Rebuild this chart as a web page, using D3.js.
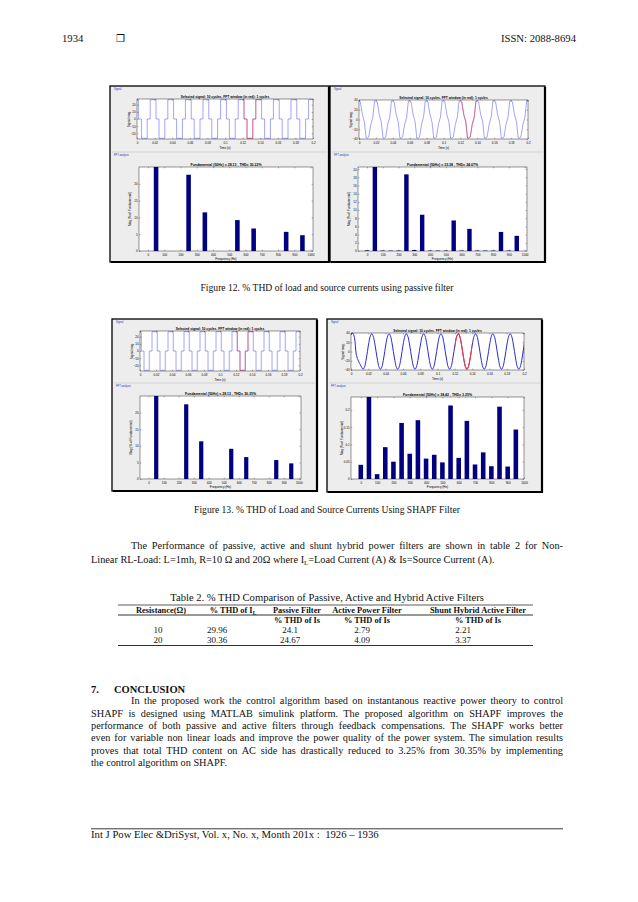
<!DOCTYPE html>
<html>
<head>
<meta charset="utf-8">
<script src="https://cdn.jsdelivr.net/npm/d3@7"></script>
<style>
  body { margin: 0; background: #fff; }
  svg { display: block; }
</style>
</head>
<body>
<svg id="page" width="638" height="902"></svg>
<script>
// ---- data ----
const freqs = [0, 50, 100, 150, 200, 250, 300, 350, 400, 450, 500, 550, 600, 650, 700, 750, 800, 850, 900, 950];
const magLoadPassive = [0, 100, 0, 0, 0, 22.7, 0, 11.5, 0, 0, 0, 9.2, 0, 6.7, 0, 0, 0, 5.7, 0, 4.7];
const magSourcePassive = [0.15, 100, 0.1, 0.1, 0.1, 18.7, 0.25, 8.85, 0.1, 0.1, 0.1, 7.45, 0.1, 5.4, 0.1, 0.1, 0.1, 4.65, 0.1, 3.7];
const magLoadShapf = [0, 100, 0, 0, 0, 22.5, 0, 11.35, 0, 0, 0, 9.1, 0, 6.6, 0, 0, 0, 5.7, 0, 4.7];
const magSourceShapf = [0.041, 100, 0.014, 0.092, 0.05, 0.162, 0.073, 0.17, 0.059, 0.07, 0.048, 0.2125, 0.061, 0.168, 0.042, 0.077, 0.037, 0.209, 0.036, 0.143];

const timeTicks = [0, 0.02, 0.04, 0.06, 0.08, 0.1, 0.12, 0.14, 0.16, 0.18, 0.2];
const freqTicks = [0, 100, 200, 300, 400, 500, 600, 700, 800, 900, 1000];
const magTicks25 = [0, 5, 10, 15, 20];
const magTicks20 = [0, 2, 4, 6, 8, 10, 12, 14, 16, 18, 20];
const magTicksSmall = [0, 0.05, 0.1, 0.15, 0.2];
const sigTicks30 = [-20, -10, 0, 10, 20];
const sigTicks40 = [-40, -20, 0, 20, 40];

// one cycle of each waveform: [fraction of cycle, value]
const sixStepCycle = [[0, 27], [0.08, 27], [0.08, 0], [0.25, 0], [0.25, -27], [0.58, -27], [0.58, 0], [0.75, 0], [0.75, 27], [1, 27]];
const passiveSourceCycle = [[0, 38], [0.08, 36], [0.2, 10], [0.32, -5], [0.42, -38], [0.5, -38], [0.58, -36], [0.7, -10], [0.82, 5], [0.92, 38], [1, 38]];
const sineStart = [[0, 36], [0.002, 40], [0.004, 30], [0.006, -5], [0.008, -18], [0.01, -26], [0.012, -33], [0.014, -38.4]];
const sineCycle = [[0, -38.4], [0.083, -33.3], [0.167, -19.2], [0.25, 0], [0.333, 19.2], [0.417, 33.3], [0.5, 38.4], [0.583, 33.3], [0.667, 19.2], [0.75, 0], [0.833, -19.2], [0.917, -33.3]];

const tableHead1 = ["Resistance(Ω)", "% THD of I|L", "Passive Filter", "Active Power Filter", "Shunt Hybrid Active Filter"];
const tableHead2 = ["", "", "% THD of Is", "% THD of Is", "% THD of Is"];
const tableRows = [
  ["10", "29.96", "24.1", "2.79", "2.21"],
  ["20", "30.36", "24.67", "4.09", "3.37"]
];

const conclusionLines = [
  "In the proposed work the control algorithm based on instantanous reactive power theory to control",
  "SHAPF is designed using MATLAB simulink platform. The proposed algorithm on SHAPF improves the",
  "performance of both passive and active filters through feedback compensations. The SHAPF works better",
  "even for variable non linear loads and improve the power quality of the power system. The simulation results",
  "proves that total THD content on AC side has drastically reduced to 3.25% from 30.35% by implementing",
  "the control algorithm on SHAPF."
];

// ---- page ----
const svg = d3.select("#page");
svg.append("rect").attr("width", 638).attr("height", 902).attr("fill", "#fff");
const defs = svg.append("defs");
const serif = "'Liberation Serif','Times New Roman',serif";
const sans = "'Liberation Sans',Arial,sans-serif";
let clipCount = 0;

// repeat a cycle from t0 until tEnd
function tile(cycle, period, t0, tEnd) {
  const pts = [];
  for (let start = t0; start < tEnd; start += period) {
    cycle.forEach(([f, v]) => {
      if (start + f * period <= tEnd + period * 0.1) pts.push([start + f * period, v]);
    });
  }
  return pts;
}

function addClip(x, y, w, h) {
  const id = "clip" + (clipCount++);
  defs.append("clipPath").attr("id", id).append("rect")
    .attr("x", x).attr("y", y).attr("width", w).attr("height", h);
  return "url(#" + id + ")";
}

// MATLAB-like boxed axes with inward ticks on all four sides
function boxAxes(g, xs, ys, xTicks, yTicks, xFmt, yFmt, pad) {
  const [x0, x1] = xs.range();
  const [y1, y0] = ys.range();
  const style = sel => {
    sel.select(".domain").remove();
    sel.selectAll("line").attr("stroke", "#000").attr("stroke-width", 0.3);
    sel.selectAll("text").attr("font-size", 3).attr("font-family", sans).attr("fill", "#000");
    sel.attr("font-size", null).attr("font-family", null);
  };
  g.append("g").attr("transform", `translate(0,${y1})`)
    .call(d3.axisBottom(xs).tickValues(xTicks).tickSize(-1.4).tickPadding(pad).tickFormat(xFmt)).call(style);
  g.append("g").attr("transform", `translate(0,${y0})`)
    .call(d3.axisTop(xs).tickValues(xTicks).tickSize(-1.4).tickFormat("")).call(style);
  g.append("g").attr("transform", `translate(${x0},0)`)
    .call(d3.axisLeft(ys).tickValues(yTicks).tickSize(-1.4).tickPadding(1.3).tickFormat(yFmt)).call(style);
  g.append("g").attr("transform", `translate(${x1},0)`)
    .call(d3.axisRight(ys).tickValues(yTicks).tickSize(-1.4).tickFormat("")).call(style);
  g.append("rect").attr("x", x0).attr("y", y0).attr("width", x1 - x0).attr("height", y1 - y0)
    .attr("fill", "none").attr("stroke", "#000").attr("stroke-width", 0.4);
}

function drawPanel(p) {
  const g = svg.append("g");
  const [fx0, fy0, fx1, fy1] = p.frame;

  g.append("rect").attr("x", fx0).attr("y", fy0).attr("width", fx1 - fx0).attr("height", fy1 - fy0)
    .attr("fill", "#ededed").attr("stroke", "#000").attr("stroke-width", 1.3);
  g.append("path").attr("d", `M${fx1},${fy0 + 1}V${fy1}H${fx0 + 1}`)
    .attr("fill", "none").attr("stroke", "#000").attr("stroke-width", 2.2);

  g.append("text").attr("x", fx0 + 4).attr("y", fy0 + 4.2).text("Signal")
    .attr("font-size", 2.6).attr("font-family", sans).attr("fill", "#2030c0");
  g.append("line").attr("x1", fx0 + 2).attr("x2", fx1 - 2).attr("y1", p.sep).attr("y2", p.sep)
    .attr("stroke", "#c4c4c4").attr("stroke-width", 0.6);
  g.append("text").attr("x", fx0 + 4).attr("y", p.sep + 3.8).text("FFT analysis")
    .attr("font-size", 2.6).attr("font-family", sans).attr("fill", "#2030c0");

  // signal plot
  const xs = d3.scaleLinear().domain([0, 0.2]).range(p.sig.x);
  const ys = d3.scaleLinear().domain(p.sigDomain).range([p.sig.y[1], p.sig.y[0]]);
  g.append("rect").attr("x", p.sig.x[0]).attr("y", p.sig.y[0])
    .attr("width", p.sig.x[1] - p.sig.x[0]).attr("height", p.sig.y[1] - p.sig.y[0]).attr("fill", "#fff");
  const line = d3.line().x(d => xs(d[0])).y(d => ys(d[1])).curve(p.curve || d3.curveLinear);
  g.append("path").datum(p.signal).attr("d", line)
    .attr("clip-path", addClip(p.sig.x[0], p.sig.y[0] - 1, p.sig.x[1] - p.sig.x[0], p.sig.y[1] - p.sig.y[0] + 2))
    .attr("fill", "none").attr("stroke", p.lineColor).attr("stroke-width", p.lineWidth);
  g.append("path").datum(p.signal).attr("d", line)
    .attr("clip-path", addClip(xs(0.12), p.sig.y[0] - 1, xs(0.14) - xs(0.12), p.sig.y[1] - p.sig.y[0] + 2))
    .attr("fill", "none").attr("stroke", "#ff3a3a").attr("stroke-width", p.lineWidth + 0.05);
  boxAxes(g, xs, ys, timeTicks, p.sigTicks, d3.format("~g"), d3.format("~g"), 3.2);

  const sxm = (p.sig.x[0] + p.sig.x[1]) / 2;
  g.append("text").attr("x", sxm).attr("y", p.sig.y[0] - 1.1).attr("text-anchor", "middle")
    .text("Selected signal: 10 cycles. FFT window (in red): 1 cycles")
    .attr("font-size", 3.3).attr("font-weight", "bold").attr("font-family", sans);
  g.append("text").attr("x", sxm).attr("y", p.sig.y[1] + 9.6).attr("text-anchor", "middle")
    .text("Time (s)").attr("font-size", 3.1).attr("font-family", sans);
  g.append("text").attr("transform", `translate(${p.sig.x[0] - 7.5},${(p.sig.y[0] + p.sig.y[1]) / 2}) rotate(-90)`)
    .attr("text-anchor", "middle").text("Signal mag.").attr("font-size", 3.1).attr("font-family", sans);

  // FFT bar plot
  const fx = d3.scaleLinear().domain(p.fftX).range(p.fft.x);
  const fy = d3.scaleLinear().domain(p.fftY).range([p.fft.y[1], p.fft.y[0]]);
  g.append("rect").attr("x", p.fft.x[0]).attr("y", p.fft.y[0])
    .attr("width", p.fft.x[1] - p.fft.x[0]).attr("height", p.fft.y[1] - p.fft.y[0]).attr("fill", "#fff");
  const bw = fx(28) - fx(0);
  g.append("g").attr("clip-path", addClip(p.fft.x[0], p.fft.y[0], p.fft.x[1] - p.fft.x[0], p.fft.y[1] - p.fft.y[0]))
    .selectAll("rect").data(freqs.map((f, i) => [f, p.mags[i]])).join("rect")
    .attr("x", d => fx(d[0]) - bw / 2).attr("width", bw)
    .attr("y", d => fy(d[1])).attr("height", d => fy(0) - fy(d[1]))
    .attr("fill", "#000080");
  boxAxes(g, fx, fy, freqTicks, p.fftTicks, d3.format("d"), d3.format("~g"), 2.8);

  const fxm = (p.fft.x[0] + p.fft.x[1]) / 2;
  g.append("text").attr("x", fxm).attr("y", p.fft.y[0] - 1.2).attr("text-anchor", "middle")
    .text(p.fftTitle).attr("font-size", 3.5).attr("font-weight", "bold").attr("font-family", sans);
  g.append("text").attr("x", fxm).attr("y", p.fft.y[1] + 9.4).attr("text-anchor", "middle")
    .text("Frequency (Hz)").attr("font-size", 3.1).attr("font-family", sans);
  g.append("text").attr("transform", `translate(${p.fft.x[0] - 8.5},${(p.fft.y[0] + p.fft.y[1]) / 2}) rotate(-90)`)
    .attr("text-anchor", "middle").text("Mag (% of Fundamental)").attr("font-size", 3.1).attr("font-family", sans);
}

const sixStep = tile(sixStepCycle, 0.02, 0, 0.2);
const passiveSource = tile(passiveSourceCycle, 0.02, 0, 0.2);
const shapfSource = sineStart.concat(tile(sineCycle, 0.02, 0.014, 0.2).slice(1));

drawPanel({
  frame: [110, 86, 329, 262], sep: 152,
  sig: { x: [137, 313], y: [99, 139] }, sigDomain: [-28, 28], sigTicks: sigTicks30,
  signal: sixStep, lineColor: "#4646ff", lineWidth: 0.5,
  fft: { x: [139, 313], y: [167, 251] }, fftX: [-55, 1015], fftY: [0, 25], fftTicks: magTicks25,
  mags: magLoadPassive, fftTitle: "Fundamental (50Hz) = 28.13 , THD= 30.22%"
});
drawPanel({
  frame: [330, 86, 545, 262], sep: 152,
  sig: { x: [359, 528], y: [100, 139] }, sigDomain: [-40, 40], sigTicks: sigTicks40,
  signal: passiveSource, lineColor: "#4646ff", lineWidth: 0.5,
  fft: { x: [358, 527], y: [167, 251] }, fftX: [-57, 1015], fftY: [0, 20.5], fftTicks: magTicks20,
  mags: magSourcePassive, fftTitle: "Fundamental (50Hz) = 33.38 , THD= 24.07%"
});
drawPanel({
  frame: [112, 319, 317, 491], sep: 383,
  sig: { x: [140, 300], y: [331, 371] }, sigDomain: [-28, 28], sigTicks: sigTicks30,
  signal: sixStep, lineColor: "#4646ff", lineWidth: 0.5,
  fft: { x: [140, 301], y: [396, 479] }, fftX: [-58, 1015], fftY: [0, 25], fftTicks: magTicks25,
  mags: magLoadShapf, fftTitle: "Fundamental (50Hz) = 28.13 , THD= 30.35%"
});
drawPanel({
  frame: [327, 319, 542, 492], sep: 383,
  sig: { x: [351, 524], y: [333, 370] }, sigDomain: [-40, 40], sigTicks: sigTicks40,
  signal: shapfSource, lineColor: "#2a2ad0", lineWidth: 1.0, curve: d3.curveCatmullRom,
  fft: { x: [351, 524], y: [397, 479] }, fftX: [-60, 1000], fftY: [0, 0.237], fftTicks: magTicksSmall,
  mags: magSourceShapf, fftTitle: "Fundamental (50Hz) = 38.42 , THD= 3.25%"
});

// ---- text ----
// "text|Lrest" puts the character after the bar as a subscript
function addText(x, y, str, opt = {}) {
  const t = svg.append("text").attr("x", x).attr("y", y)
    .attr("font-family", opt.family || serif).attr("font-size", opt.size || 10.3)
    .attr("font-weight", opt.bold ? "bold" : null)
    .attr("text-anchor", opt.anchor || "start").attr("fill", "#111")
    .style("white-space", "pre");
  const bits = str.split("|");
  t.append("tspan").text(bits[0]);
  for (let i = 1; i < bits.length; i++) {
    const m = bits[i].match(/^(\S)(.*)$/s);
    t.append("tspan").attr("dy", 1.8).attr("font-size", (opt.size || 10.3) * 0.65).text(m[1]);
    t.append("tspan").attr("dy", -1.8).text(m[2]);
  }
  if (opt.to) {
    const len = t.node().getComputedTextLength();
    const spaces = str.split(" ").length - 1;
    if (spaces > 0) t.attr("word-spacing", (opt.to - x - len) / spaces);
  }
  return t;
}

addText(62, 41.5, "1934", { size: 10.7 });
addText(116, 41.5, "❐", { size: 10, family: "'DejaVu Sans',sans-serif" });
addText(576, 41.5, "ISSN: 2088-8694", { size: 10.7, anchor: "end" });

addText(327, 291, "Figure 12. % THD of load and source currents using passive filter", { size: 9.6, anchor: "middle" });
addText(327, 513, "Figure 13. % THD of Load and Source Currents Using SHAPF Filter", { size: 9.6, anchor: "middle" });

addText(131, 549, "The Performance of passive, active and shunt hybrid power filters are shown in table 2 for Non-", { to: 563 });
addText(91, 563, "Linear RL-Load: L=1mh, R=10 Ω and 20Ω where I|L=Load Current (A) & Is=Source Current (A).");

addText(327, 601, "Table 2. % THD Comparison of Passive, Active and Hybrid Active Filters", { size: 10.6, anchor: "middle" });

const headX = [161, 233, 297, 367, 478];
const dataX = [158, 217, 290, 362, 463];
[605, 615, 645.5].forEach(y => {
  svg.append("line").attr("x1", 118).attr("x2", 533).attr("y1", y).attr("y2", y)
    .attr("stroke", "#333").attr("stroke-width", y === 605 ? 0.8 : 1.0);
});
tableHead1.forEach((h, i) => addText(headX[i], 613.2, h, { size: 8.4, bold: true, anchor: "middle" }));
tableHead2.forEach((h, i) => { if (h) addText(headX[i], 623.3, h, { size: 8.4, bold: true, anchor: "middle" }); });
tableRows.forEach((row, r) => {
  row.forEach((v, i) => addText(dataX[i], 632.6 + r * 10.4, v, { size: 9, anchor: "middle" }));
});

addText(91, 692.7, "7.", { bold: true, size: 10.5 });
addText(114, 692.7, "CONCLUSION", { bold: true, size: 10.5 });
conclusionLines.forEach((l, i) => {
  const last = i === conclusionLines.length - 1;
  addText(i === 0 ? 131 : 91, 704.4 + i * 12.33, l, last ? {} : { to: 563 });
});

svg.append("line").attr("x1", 91).attr("x2", 563).attr("y1", 828.8).attr("y2", 828.8)
  .attr("stroke", "#222").attr("stroke-width", 0.9);
addText(91, 838, "Int J Pow Elec &DriSyst, Vol. x, No. x, Month 201x :  1926 – 1936", { size: 10.7 });
</script>
</body>
</html>
